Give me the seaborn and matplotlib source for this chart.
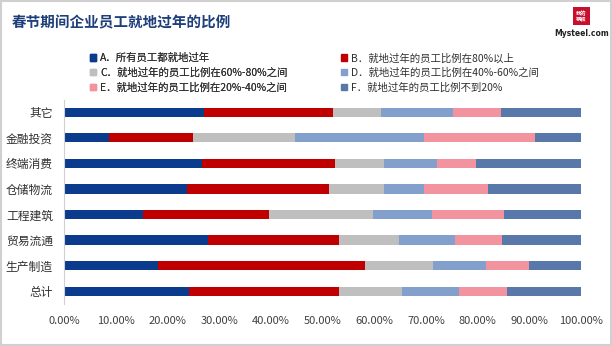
import matplotlib
matplotlib.use("Agg")
import matplotlib.pyplot as plt
import seaborn as sns
import pandas as pd
import numpy as np
from matplotlib.patches import Patch, Rectangle
from matplotlib.ticker import FuncFormatter

categories = ["其它", "金融投资", "终端消费", "仓储物流", "工程建筑", "贸易流通", "生产制造", "总计"]
series_names = [
    "A．所有员工都就地过年",
    "B．就地过年的员工比例在80%以上",
    "C．就地过年的员工比例在60%-80%之间",
    "D．就地过年的员工比例在40%-60%之间",
    "E．就地过年的员工比例在20%-40%之间",
    "F．就地过年的员工比例不到20%",
]
A = [27.1, 8.8, 26.7, 23.7, 15.3, 27.9, 18.2, 24.2]
B = [24.9, 16.2, 25.7, 27.6, 24.4, 25.3, 40.0, 28.9]
C = [9.3, 19.7, 9.5, 10.6, 20.1, 11.6, 13.1, 12.3]
D = [13.9, 24.9, 10.3, 7.7, 11.3, 10.8, 10.3, 11.0]
E = [9.3, 21.5, 7.4, 12.4, 14.0, 9.1, 8.3, 9.2]
F = [15.5, 8.9, 20.4, 18.0, 14.9, 15.3, 10.1, 14.4]
x_ticks = [0, 10, 20, 30, 40, 50, 60, 70, 80, 90, 100]

colors = ["#0B3B8C", "#C00000", "#BFBFBF", "#839FCB", "#F2939F", "#5878AA"]

sns.set_theme(style="white")
plt.rcParams['font.family'] = ['Noto Sans CJK SC', 'DejaVu Sans']

series = [A, B, C, D, E, F]
cum = np.cumsum(np.array(series, dtype=float), axis=0)

fig = plt.figure(figsize=(6.12, 3.46), dpi=100)
ax = fig.add_axes([64/612, 1-304/346, 517/612, 204.5/346])

for i in range(len(series) - 1, -1, -1):
    df = pd.DataFrame({"cat": categories, "val": cum[i]})
    sns.barplot(data=df, y="cat", x="val", orient="h", color=colors[i],
                width=0.36, saturation=1, ax=ax, linewidth=0, edgecolor=colors[i])

ax.set_xlim(0, 100)
ax.set_ylim(7.5, -0.5)
ax.set_xlabel("")
ax.set_ylabel("")
ax.set_xticks(x_ticks)
ax.xaxis.set_major_formatter(FuncFormatter(lambda v, p: f"{v:.2f}%"))
ax.tick_params(axis="x", labelsize=8, colors="#404040", length=0, pad=9)
ax.tick_params(axis="y", labelsize=8.5, colors="#303030", length=0, pad=8)
for s in ["top", "right", "bottom"]:
    ax.spines[s].set_visible(False)
ax.spines["left"].set_color("#D0D0D0")
ax.spines["left"].set_linewidth(0.8)

handles = [Patch(facecolor=c, edgecolor=c, label=n) for c, n in zip(colors, series_names)]
leg_kw = dict(frameon=False, fontsize=7.5, handlelength=0.55, handleheight=0.55,
              handletextpad=0.4, labelspacing=0.42, labelcolor="#303030", loc="upper left",
              borderaxespad=0, borderpad=0)
leg1 = fig.legend(handles=handles[0::2], bbox_to_anchor=(90/612, 1-53/346), **leg_kw)
fig.add_artist(leg1)
fig.legend(handles=handles[1::2], bbox_to_anchor=(341/612, 1-53/346), **leg_kw)

fig.text(12/612, 1-22/346, "春节期间企业员工就地过年的比例", fontsize=10.5,
         fontweight="bold", color="#1F3F7A", va="center", ha="left")

# logo
fig.patches.append(Rectangle((573/612, 1-25/346), 17/612, 18/346, transform=fig.transFigure,
                             facecolor="#C8102E", edgecolor="none"))
fig.text(581.5/612, 1-16/346, "我的\n钢铁", fontsize=3.8, color="white", ha="center",
         va="center", fontweight="bold", linespacing=0.9)
fig.text(582/612, 1-34/346, "Mysteel.com", fontsize=5.5, color="#222222", ha="center",
         va="center", fontweight="bold", family=["DejaVu Sans"])

fig.patches.append(Rectangle((0.002, 0.003), 0.996, 0.994, transform=fig.transFigure,
                             facecolor="none", edgecolor="#D0D0D0", linewidth=1.5))

fig.savefig("out.png", dpi=100)
